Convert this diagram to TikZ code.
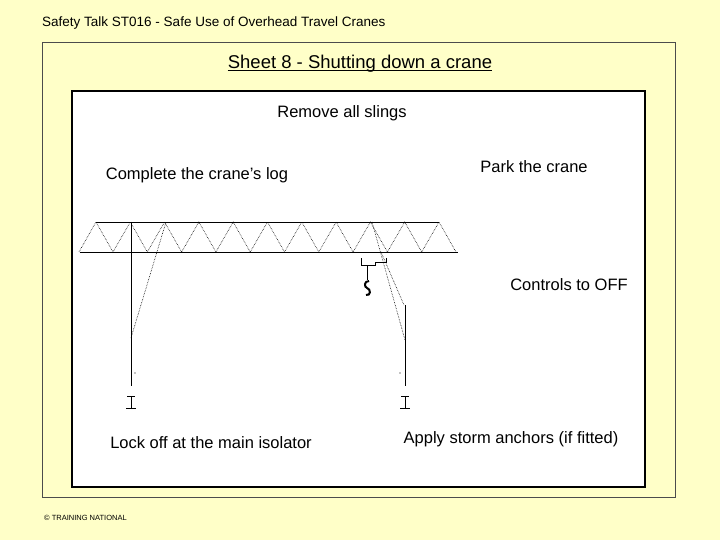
\documentclass[tikz,border=0pt]{standalone}
\usepackage{fontspec}
\setmainfont{Liberation Sans}
\definecolor{paper}{HTML}{FFFFC8}
\begin{document}
\begin{tikzpicture}[x=1pt,y=-1pt]
\tikzset{lbl/.style={inner sep=0pt,font=\fontsize{16.5}{19}\selectfont},
  truss/.style={densely dotted,line width=0.6pt},
  beam/.style={line width=0.8pt}}
\useasboundingbox (0,0) rectangle (720,540);
\fill [paper] (0,0) rectangle (720,540);
\draw [black!70,line width=0.8pt] (42,42) rectangle (675,497);
\fill [white] (72,91) rectangle (645,487);
\draw [black,line width=1.6pt] (72,91) rectangle (645,487);
\node (title) [inner sep=0pt,anchor=west,font=\fontsize{13.5}{15}\selectfont] at (42,23) {Safety Talk ST016 - Safe Use of Overhead Travel Cranes};
\node (sheet) [inner sep=0pt,font=\fontsize{18.5}{21}\selectfont] at (360,64) {Sheet 8 - Shutting down a crane};
\draw [line width=0.9pt] ([yshift=-2pt]sheet.base west) -- ([yshift=-2pt]sheet.base east);
\node (slings) [lbl] at (342,113) {Remove all slings};
\node (log) [lbl] at (197,175) {Complete the crane’s log};
\node (park) [lbl] at (534,167) {Park the crane};
\node (off) [lbl] at (569,285) {Controls to OFF};
\node (lock) [lbl] at (211,443) {Lock off at the main isolator};
\node (storm) [lbl] at (511,439) {Apply storm anchors (if fitted)};
\node (copy) [inner sep=0pt,anchor=west,font=\fontsize{7.5}{8}\selectfont] at (44,518) {\textcopyright{} TRAINING NATIONAL};
% crane girder
\draw [beam] (96,222) -- (439,222);
\draw [beam] (80,252) -- (458,252);
\draw [truss] (79,252) \foreach \k in {0,...,10} { -- (96+34.3*\k,222) -- (113+34.3*\k,252)};
% legs
\draw [beam] (131,222) -- (131,386);
\draw [truss] (131,338) -- (166,222);
\draw [beam] (405,305) -- (405,386);
\draw [truss] (372,222) -- (405,340);
\draw [truss] (381,252) -- (404,305);
\fill (135,373) circle (0.6);
\fill (400,373) circle (0.6);
% rail stops
\foreach \x in {131,405} {
  \draw [line width=0.7pt] (\x-4,396) -- (\x+4,396) (\x,396) -- (\x,408) (\x-5,408) -- (\x+5,408);
}
% trolley and hook
\draw [line width=0.8pt] (361,258) -- (361,265) -- (375,265) -- (375,262) -- (386,262) -- (386,258);
\draw [line width=0.8pt] (367,265) -- (367,280);
\draw [line width=2pt] (369,281) .. controls (364,281) and (364,287) .. (367,288) .. controls (371,289) and (371,296) .. (366,295);
\end{tikzpicture}
\end{document}
